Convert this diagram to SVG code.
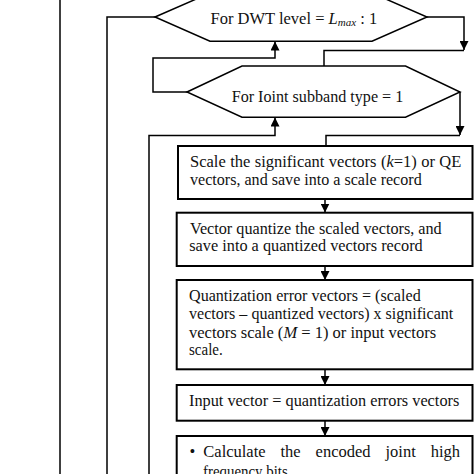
<svg xmlns="http://www.w3.org/2000/svg" width="474" height="474" viewBox="0 0 474 474">
<style>
.ln{fill:none;stroke:#000;stroke-width:1.5}
.bx{fill:#fff;stroke:#000;stroke-width:2}
.t{font-family:"Liberation Serif","DejaVu Serif",serif;font-size:16.5px;fill:#111}
.i{font-style:italic}
</style>
<defs>
<marker id="ah" viewBox="0 0 10 10" refX="10" refY="5" markerWidth="9" markerHeight="9" markerUnits="userSpaceOnUse" orient="auto">
<path d="M0,0 L10,5 L0,10 Z" fill="#000"/>
</marker>
</defs>
<rect width="474" height="474" fill="#fff"/>
<g id="connectors">
<line class="ln" x1="60" y1="0" x2="60" y2="474"/>
<polyline class="ln" points="155,17 107,17 107,474"/>
<polyline class="ln" points="427,17 464,17 464,50" marker-end="url(#ah)"/>
<polyline class="ln" points="464,50.5 324,50.5 324,66"/>
<polyline class="ln" points="187,92 153,92 153,58 275,58 275,41.5" marker-end="url(#ah)"/>
<polyline class="ln" points="460,92 460,135" marker-end="url(#ah)"/>
<polyline class="ln" points="460,135.5 326,135.5 326,146"/>
<polyline class="ln" points="149,474 149,135.5 275,135.5 275,117.5" marker-end="url(#ah)"/>
<line class="ln" x1="325" y1="199" x2="325" y2="212.5" marker-end="url(#ah)"/>
<line class="ln" x1="325" y1="266" x2="325" y2="280" marker-end="url(#ah)"/>
<line class="ln" x1="325" y1="369" x2="325" y2="385" marker-end="url(#ah)"/>
<line class="ln" x1="325" y1="421" x2="325" y2="436" marker-end="url(#ah)"/>
</g>
<g id="loop-dwt">
<polygon class="ln" points="155,17 210,-7 372,-7 427,17 372,41.3 210,41.3"/>
<text class="t" x="210.5" y="24">For DWT level = <tspan class="i">L</tspan><tspan class="i" font-size="11" dy="2">max</tspan><tspan dy="-2"> : 1</tspan></text>
</g>
<g id="loop-subband">
<polygon class="ln" points="187,92 242,66 405.5,66 460,92 405.5,117.3 242,117.3"/>
<text class="t" x="231.7" y="102" textLength="171.6" lengthAdjust="spacingAndGlyphs">For Ioint subband type = 1</text>
</g>
<g id="box-scale">
<rect class="bx" x="178" y="146" width="294.5" height="53"/>
<text class="t" x="190" y="167.3" word-spacing="0.3">Scale the significant vectors (<tspan class="i">k</tspan>=1) or QE</text>
<text class="t" x="190" y="185" textLength="231.7" lengthAdjust="spacingAndGlyphs">vectors, and save into a scale record</text>
</g>
<g id="box-vq">
<rect class="bx" x="176.7" y="212.7" width="295.8" height="53.3"/>
<text class="t" x="190" y="234" textLength="251.7" lengthAdjust="spacingAndGlyphs">Vector quantize the scaled vectors, and</text>
<text class="t" x="189.3" y="251" textLength="233.4" lengthAdjust="spacingAndGlyphs">save into a quantized vectors record</text>
</g>
<g id="box-qe">
<rect class="bx" x="176.7" y="280" width="295.8" height="89.3"/>
<text class="t" x="189" y="301" textLength="231.7" lengthAdjust="spacingAndGlyphs">Quantization error vectors = (scaled</text>
<text class="t" x="189" y="319.3" textLength="264.3" lengthAdjust="spacingAndGlyphs">vectors – quantized vectors) x significant</text>
<text class="t" x="189" y="338">vectors scale (<tspan class="i">M</tspan> = 1) or input vectors</text>
<text class="t" x="189" y="355" textLength="33.7" lengthAdjust="spacingAndGlyphs">scale.</text>
</g>
<g id="box-input">
<rect class="bx" x="176.7" y="385" width="295.8" height="35.7"/>
<text class="t" x="189" y="406" textLength="270.3" lengthAdjust="spacingAndGlyphs">Input vector = quantization errors vectors</text>
</g>
<g id="box-bits">
<rect class="bx" x="176.7" y="436" width="295.8" height="60"/>
<text class="t" x="189.5" y="456.7">•</text>
<text class="t" x="203.3" y="456.7" word-spacing="10.8">Calculate the encoded joint high</text>
<text class="t" x="203" y="477" textLength="84.7" lengthAdjust="spacingAndGlyphs">frequency bits</text>
</g>
</svg>
